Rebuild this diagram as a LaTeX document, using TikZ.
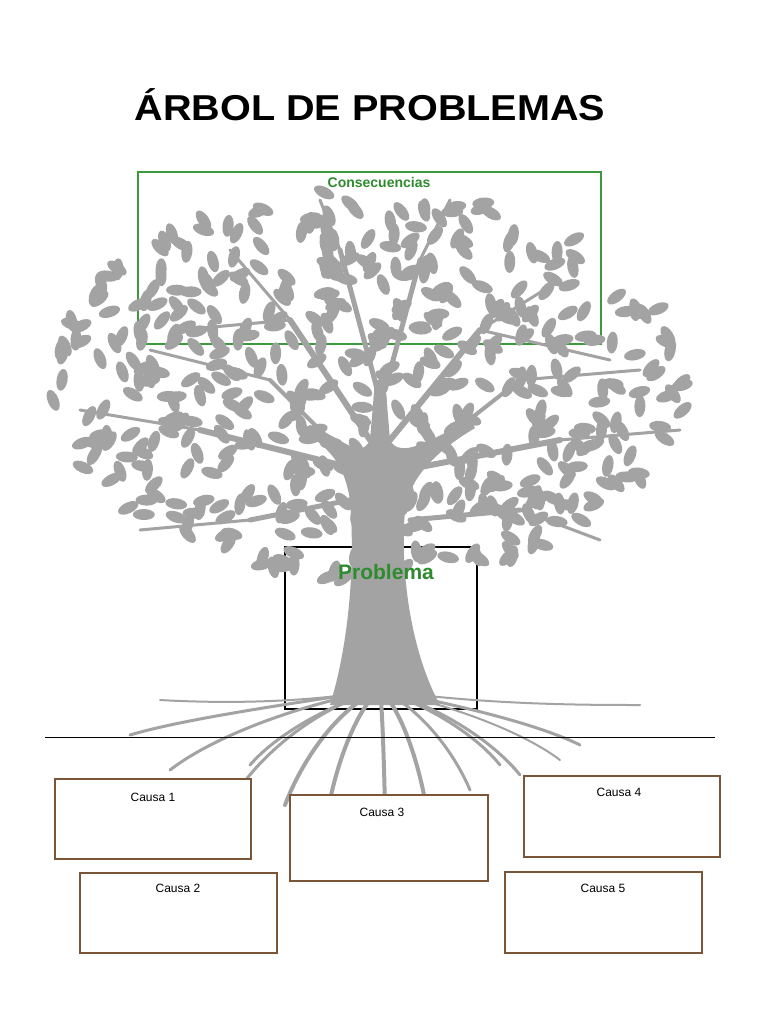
\documentclass[tikz,border=0pt]{standalone}
\usepackage{fontspec}
\setmainfont{Liberation Sans}
\begin{document}
\begin{tikzpicture}[x=1pt,y=-1pt,
  leaf/.style={fill=treegray,draw=none},
  branch/.style={draw=treegray,line cap=round},
  causebox/.style={draw=causebrown,line width=1.5pt,fill=white},
  causelabel/.style={font=\fontsize{12}{14}\selectfont},
  greenlabel/.style={text=labelgreen}]
\definecolor{treegray}{HTML}{A3A3A3}
\definecolor{causebrown}{HTML}{7A5538}
\definecolor{labelgreen}{HTML}{2E8B2E}
\definecolor{boxgreen}{HTML}{3C9A3C}
\useasboundingbox (0,0) rectangle (768,1024);
\fill[white] (0,0) rectangle (768,1024);
% title
\node (title) at (370,105) {\fontsize{36}{38}\selectfont\bfseries\scalebox{1.1}[1]{ÁRBOL DE PROBLEMAS}};
% boxes behind tree
\draw[boxgreen,line width=1.1pt] (138,172) rectangle (601,344);
\draw[black,line width=1.1pt] (285,547) rectangle (477,709);
% leaves
\pgfmathsetseed{7}
\foreach \i in {1,...,520}{
  \pgfmathsetmacro{\ang}{360*rnd}
  \pgfmathsetmacro{\rr}{sqrt(rnd)}
  \pgfmathsetmacro{\lx}{370+318*\rr*cos(\ang)}
  \pgfmathsetmacro{\ly}{385+195*\rr*sin(\ang)}
  \pgfmathsetmacro{\rot}{180*rnd}
  \fill[leaf,rotate around={\rot:(\lx,\ly)}] (\lx,\ly) ellipse (11 and 5.5);
}
% trunk
\fill[treegray] (330,705) .. controls (350,640) and (355,560) .. (350,500)
  .. controls (345,470) and (335,450) .. (300,430)
  -- (310,425) .. controls (345,440) and (360,460) .. (370,440)
  -- (375,380) -- (385,380) -- (390,440)
  .. controls (400,460) and (430,440) .. (470,420)
  -- (475,428) .. controls (430,455) and (410,480) .. (405,510)
  .. controls (400,570) and (410,650) .. (440,705) -- cycle;
% branches
\foreach \xa/\ya/\xb/\yb/\w in {
  370/440/290/320/6, 380/400/340/250/5, 385/390/420/260/5, 390/440/480/330/6,
  360/470/200/430/6, 200/430/80/410/3, 405/470/560/440/6, 560/440/680/430/3,
  350/500/250/520/5, 250/520/140/530/3, 410/520/520/510/5, 520/510/600/540/3,
  290/320/230/250/3, 290/320/180/330/3, 480/330/560/280/3, 480/330/610/360/3,
  340/250/320/200/3, 420/260/450/200/3, 360/470/270/380/4, 270/380/150/350/3,
  405/470/520/380/4, 520/380/640/370/3}{
  \draw[branch,line width=\w pt] (\xa,\ya) -- (\xb,\yb);
}
% roots
\foreach \ex/\ey/\w in {130/735/3, 170/770/3, 235/795/3, 285/805/4, 330/800/4,
  385/810/4, 425/800/4, 470/790/3, 520/775/3, 580/745/3, 640/705/2, 160/700/2,
  250/765/3, 500/765/3, 560/760/2}{
  \draw[branch,line width=\w pt] (380,690) .. controls ({380+0.4*(\ex-380)},705)
    and ({380+0.8*(\ex-380)},{0.5*(705+\ey)}) .. (\ex,\ey);
}
% ground line
\draw[line width=1pt] (45,737) -- (715,737);
% labels
\node[greenlabel,font=\fontsize{14}{16}\selectfont\bfseries] (cons) at (379,182) {Consecuencias};
\node[greenlabel,font=\fontsize{21}{24}\selectfont\bfseries] (prob) at (386,572) {Problema};
% causes
\draw[causebox] (55,779) rectangle (251,859);
\node[causelabel] (c1) at (153,797) {Causa 1};
\draw[causebox] (80,873) rectangle (277,953);
\node[causelabel] (c2) at (178,888) {Causa 2};
\draw[causebox] (290,795) rectangle (488,881);
\node[causelabel] (c3) at (382,812) {Causa 3};
\draw[causebox] (524,776) rectangle (720,857);
\node[causelabel] (c4) at (619,792) {Causa 4};
\draw[causebox] (505,872) rectangle (702,953);
\node[causelabel] (c5) at (603,888) {Causa 5};
\end{tikzpicture}
\end{document}
